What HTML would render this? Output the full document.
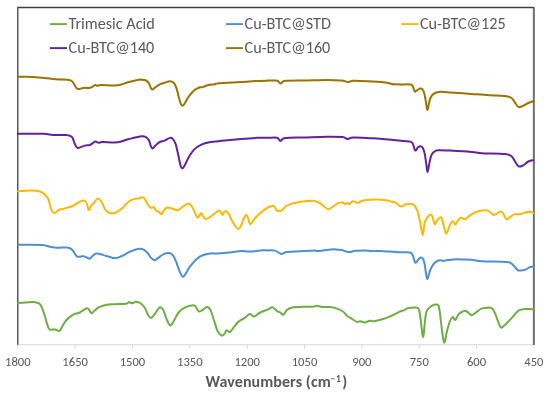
<!DOCTYPE html>
<html><head><meta charset="utf-8"><style>
html,body{margin:0;padding:0;background:#fff;}
body{width:550px;height:397px;overflow:hidden;}
svg{display:block;}
.ax text{font-family:Carlito,"Liberation Sans",sans-serif;font-size:12.6px;fill:#595959;text-anchor:middle;}
.lg text{font-family:Carlito,"Liberation Sans",sans-serif;font-size:16.2px;fill:#595959;}
.tt{font-family:Carlito,"Liberation Sans",sans-serif;font-size:16px;letter-spacing:0.08px;font-weight:bold;fill:#595959;}
.cv path{fill:none;stroke-width:2;stroke-linejoin:round;stroke-linecap:round;}
</style></head><body>
<svg width="550" height="397" viewBox="0 0 550 397">
<rect width="550" height="397" fill="#fff"/>
<g stroke="#d9d9d9" stroke-width="1"><line x1="17.8" y1="344.7" x2="533.9" y2="344.7"/><line x1="17.80" y1="344.7" x2="17.80" y2="348.7"/><line x1="75.14" y1="344.7" x2="75.14" y2="348.7"/><line x1="132.49" y1="344.7" x2="132.49" y2="348.7"/><line x1="189.83" y1="344.7" x2="189.83" y2="348.7"/><line x1="247.18" y1="344.7" x2="247.18" y2="348.7"/><line x1="304.52" y1="344.7" x2="304.52" y2="348.7"/><line x1="361.87" y1="344.7" x2="361.87" y2="348.7"/><line x1="419.21" y1="344.7" x2="419.21" y2="348.7"/><line x1="476.56" y1="344.7" x2="476.56" y2="348.7"/><line x1="533.90" y1="344.7" x2="533.90" y2="348.7"/></g>
<line x1="533.85" y1="7" x2="533.85" y2="345" stroke="#707070" stroke-width="2"/>
<path d="M17.8,344.7 V7.5 H533.4" fill="none" stroke="#404040" stroke-width="1.3"/>
<g class="cv">
<path d="M17.9,303.0 C19.2,302.9 23.1,302.6 25.5,302.5 C27.9,302.4 30.3,302.0 32.5,302.1 C34.7,302.2 37.2,302.8 38.5,303.2 C39.8,303.6 39.7,303.8 40.3,304.6 C40.9,305.4 41.4,306.4 42.1,308.1 C42.8,309.9 43.9,312.8 44.6,315.1 C45.4,317.5 45.9,320.0 46.6,322.2 C47.3,324.4 48.0,326.9 48.6,328.2 C49.2,329.4 49.2,329.5 50.3,329.7 C51.4,329.9 54.1,329.4 55.2,329.5 C56.4,329.6 56.6,330.1 57.2,330.4 C57.8,330.6 58.2,331.0 58.7,331.0 C59.2,331.0 59.5,331.2 60.2,330.2 C61.0,329.1 62.2,326.4 63.2,324.7 C64.2,323.0 65.1,321.5 66.3,320.2 C67.5,318.9 69.0,317.6 70.3,316.6 C71.6,315.6 72.7,314.8 74.3,314.1 C75.9,313.4 77.7,313.5 79.8,312.5 C81.9,311.5 85.3,308.6 86.9,308.2 C88.5,307.8 88.5,309.3 89.3,310.1 C90.1,310.9 90.7,313.2 91.7,313.2 C92.7,313.2 94.0,311.1 95.2,310.1 C96.4,309.1 96.9,308.2 98.7,307.3 C100.5,306.4 103.0,305.4 105.8,304.9 C108.6,304.4 111.9,304.4 115.3,304.2 C118.7,304.0 123.6,304.0 125.9,303.7 C128.2,303.4 128.1,302.2 129.0,302.1 C129.9,302.0 130.5,303.1 131.4,303.2 C132.3,303.3 133.5,302.7 134.2,302.5 C134.9,302.3 134.4,301.7 135.4,301.8 C136.4,301.9 138.5,302.0 140.1,303.0 C141.7,304.0 143.5,305.7 144.8,307.7 C146.1,309.7 146.9,313.1 147.9,314.8 C148.9,316.5 149.8,318.1 151.0,317.9 C152.2,317.7 153.6,315.4 155.0,313.6 C156.4,311.8 158.3,307.9 159.7,307.3 C161.1,306.7 162.1,308.1 163.3,310.1 C164.5,312.2 165.6,317.0 166.8,319.6 C168.0,322.2 169.2,325.3 170.4,325.5 C171.6,325.7 172.5,322.9 173.9,320.7 C175.3,318.5 176.8,314.7 178.6,312.5 C180.4,310.3 182.4,308.9 184.6,307.7 C186.8,306.5 189.8,305.7 191.6,305.4 C193.4,305.1 194.0,305.1 195.2,306.1 C196.4,307.1 197.5,310.6 198.7,311.3 C199.9,312.0 200.9,310.8 202.3,310.1 C203.7,309.4 205.6,307.0 207.0,307.0 C208.4,307.0 209.4,307.8 210.6,310.1 C211.8,312.4 212.9,317.1 214.1,320.7 C215.3,324.2 216.4,328.9 217.7,331.4 C219.0,333.9 220.7,335.2 221.9,335.6 C223.1,336.0 223.9,334.6 224.7,333.7 C225.5,332.8 225.7,330.5 226.6,330.2 C227.5,329.9 228.6,332.7 229.9,332.1 C231.2,331.5 232.7,328.4 234.2,326.6 C235.7,324.8 237.1,322.8 238.9,321.4 C240.7,319.9 243.0,319.1 244.8,317.9 C246.6,316.7 248.0,314.3 249.6,314.1 C251.2,313.9 252.5,316.8 254.3,316.5 C256.1,316.2 258.0,313.6 260.2,312.5 C262.4,311.4 265.3,310.5 267.3,309.6 C269.3,308.7 271.0,307.3 272.3,307.3 C273.6,307.3 274.2,308.7 275.1,309.4 C276.0,310.1 277.0,311.2 277.9,311.7 C278.8,312.2 279.4,312.0 280.3,312.5 C281.2,313.0 282.3,315.2 283.4,314.8 C284.5,314.4 285.5,311.3 286.9,310.1 C288.3,308.9 288.8,308.2 291.6,307.7 C294.4,307.1 299.9,306.9 303.5,306.8 C307.1,306.7 310.7,307.0 312.9,306.8 C315.1,306.6 314.9,305.8 316.5,305.8 C318.1,305.8 320.0,306.8 322.4,307.0 C324.8,307.2 328.1,306.7 330.6,307.0 C333.2,307.3 335.5,308.1 337.7,308.9 C339.9,309.7 342.0,310.8 343.6,312.0 C345.2,313.2 345.8,314.9 347.2,316.0 C348.6,317.1 350.3,317.8 351.9,318.8 C353.5,319.8 355.3,321.5 356.7,321.9 C358.1,322.3 358.8,321.1 360.2,321.2 C361.6,321.3 363.3,322.5 364.9,322.4 C366.5,322.3 368.1,320.9 369.7,320.7 C371.3,320.5 372.0,321.5 374.4,321.2 C376.8,320.9 381.1,319.7 383.8,318.8 C386.6,317.9 388.3,317.1 390.9,316.0 C393.5,314.9 397.0,312.9 399.2,311.9 C401.4,310.9 402.8,310.7 404.3,310.1 C405.8,309.5 406.2,308.5 408.2,308.1 C410.2,307.7 414.7,307.3 416.5,307.5 C418.3,307.7 418.3,308.1 418.9,309.5 C419.5,310.9 419.8,313.4 420.2,316.0 C420.6,318.6 420.9,322.1 421.3,325.0 C421.7,327.9 422.0,331.5 422.3,333.5 C422.6,335.5 422.8,337.2 423.0,337.2 C423.2,337.2 423.5,335.9 423.8,333.5 C424.1,331.1 424.4,326.3 424.8,323.0 C425.2,319.7 425.5,315.8 426.0,313.5 C426.5,311.2 427.0,310.6 427.7,309.5 C428.4,308.4 429.1,307.8 430.2,307.0 C431.2,306.2 432.8,305.2 434.0,304.8 C435.2,304.4 436.7,304.3 437.5,304.6 C438.3,304.9 438.4,305.3 438.8,306.5 C439.2,307.7 439.4,309.4 439.8,312.0 C440.2,314.6 440.6,318.3 441.0,322.0 C441.4,325.7 442.0,330.6 442.5,334.0 C443.0,337.4 443.6,341.5 444.1,342.3 C444.6,343.1 445.1,340.6 445.5,339.0 C445.9,337.4 445.9,335.7 446.6,332.8 C447.3,329.9 448.9,324.1 449.8,321.5 C450.8,318.9 451.7,318.0 452.3,317.4 C452.9,316.8 453.0,317.2 453.5,317.6 C454.0,318.0 454.6,320.4 455.4,320.0 C456.1,319.6 457.2,316.3 458.0,315.2 C458.8,314.1 459.2,313.8 460.0,313.1 C460.8,312.5 462.1,311.7 463.0,311.3 C463.9,310.9 464.6,310.6 465.5,310.8 C466.4,311.1 467.5,312.1 468.5,312.8 C469.5,313.5 470.6,315.1 471.7,315.2 C472.8,315.2 473.7,314.1 475.2,313.1 C476.7,312.1 479.1,309.9 480.7,309.0 C482.3,308.1 483.6,308.1 485.0,307.9 C486.4,307.7 487.9,307.6 489.0,307.6 C490.1,307.7 490.8,307.9 491.5,308.2 C492.2,308.5 492.5,308.6 493.1,309.6 C493.7,310.6 494.6,312.4 495.3,314.0 C496.0,315.6 496.4,317.1 497.3,319.3 C498.2,321.5 499.6,326.2 500.7,327.3 C501.8,328.4 502.5,327.1 504.2,325.6 C505.9,324.2 508.8,321.0 511.1,318.6 C513.4,316.2 516.3,312.5 518.0,311.0 C519.7,309.5 520.4,309.9 521.5,309.6 C522.6,309.3 523.6,309.1 524.9,309.0 C526.2,308.9 527.6,308.9 529.1,309.0 C530.6,309.1 533.1,309.3 533.9,309.4" stroke="#6cae42"/>
<path d="M17.9,244.8 C19.9,244.8 25.9,244.7 30.0,244.7 C34.1,244.7 39.7,244.7 42.5,244.9 C45.3,245.1 45.5,245.6 47.0,246.0 C48.5,246.4 49.8,246.8 51.5,247.1 C53.2,247.4 55.2,247.7 57.0,247.8 C58.8,247.9 60.3,247.6 62.0,247.6 C63.7,247.6 65.8,247.5 67.0,247.6 C68.2,247.7 68.5,247.5 69.5,248.0 C70.5,248.5 71.6,249.1 72.7,250.4 C73.8,251.7 75.3,254.8 76.3,255.8 C77.3,256.9 77.4,256.6 78.6,256.7 C79.8,256.8 82.0,256.2 83.4,256.3 C84.8,256.4 85.8,257.1 86.9,257.5 C88.0,257.9 88.8,258.9 89.8,258.6 C90.8,258.3 91.7,256.7 92.8,255.8 C93.9,254.9 94.6,253.5 96.4,253.4 C98.2,253.3 100.8,254.3 103.5,255.1 C106.2,255.8 110.5,257.5 112.9,257.9 C115.3,258.3 115.7,258.2 117.7,257.7 C119.7,257.1 122.3,255.8 124.7,254.6 C127.1,253.4 129.4,251.8 131.8,250.8 C134.2,249.8 136.9,248.9 138.9,248.7 C140.9,248.5 142.6,249.0 144.1,249.8 C145.6,250.6 147.1,252.3 148.2,253.6 C149.3,254.9 149.9,256.6 150.9,257.7 C151.9,258.8 153.2,260.1 154.3,260.2 C155.4,260.3 156.2,259.4 157.7,258.4 C159.2,257.4 161.3,255.2 163.2,254.3 C165.1,253.4 167.7,252.9 169.3,253.0 C170.9,253.1 171.5,253.5 172.7,255.0 C173.8,256.5 175.0,259.1 176.2,261.8 C177.3,264.5 178.5,268.9 179.6,271.4 C180.7,273.9 181.7,276.0 182.6,276.6 C183.5,277.2 183.7,276.6 185.0,274.8 C186.3,273.0 188.4,268.6 190.5,265.9 C192.6,263.2 195.0,260.3 197.3,258.4 C199.6,256.5 201.8,255.5 204.1,254.7 C206.4,253.9 208.6,253.6 210.9,253.4 C213.2,253.2 214.6,253.7 217.7,253.5 C220.8,253.3 225.6,252.9 229.5,252.5 C233.4,252.1 238.4,251.3 241.3,251.1 C244.2,250.9 245.2,251.4 247.2,251.5 C249.2,251.6 250.9,251.7 253.1,251.5 C255.3,251.3 257.7,250.6 260.2,250.4 C262.7,250.2 265.5,250.4 268.0,250.4 C270.5,250.4 272.9,250.0 275.1,250.6 C277.3,251.2 279.0,253.7 281.0,253.9 C283.0,254.1 283.1,252.5 286.9,252.0 C290.6,251.5 298.8,251.3 303.5,251.1 C308.2,250.9 312.9,250.6 315.3,250.6 C317.7,250.6 314.9,251.3 317.6,251.1 C320.4,250.9 327.9,249.6 331.8,249.4 C335.8,249.2 338.5,249.7 341.3,250.1 C344.1,250.5 346.0,251.9 348.4,252.0 C350.8,252.1 352.8,251.1 355.5,250.8 C358.2,250.5 362.1,250.4 364.9,250.4 C367.6,250.4 369.2,251.0 372.0,251.1 C374.8,251.2 378.4,251.0 381.5,251.1 C384.6,251.2 388.1,251.3 390.9,251.5 C393.6,251.7 394.8,252.1 398.0,252.3 C401.2,252.5 407.6,252.0 410.0,252.5 C412.4,253.0 411.9,254.0 412.6,255.1 C413.3,256.2 413.6,257.8 414.0,259.0 C414.4,260.2 414.7,261.8 415.1,262.4 C415.5,262.9 415.9,262.6 416.3,262.3 C416.7,262.0 416.8,261.5 417.4,260.8 C418.0,260.1 419.0,258.6 419.7,258.1 C420.4,257.6 421.1,257.3 421.7,257.6 C422.3,257.9 423.0,258.6 423.5,259.8 C424.0,261.0 424.4,263.0 424.8,265.0 C425.2,267.0 425.4,269.7 425.8,272.0 C426.2,274.3 426.7,278.3 427.2,278.8 C427.7,279.3 428.2,276.6 428.7,275.2 C429.2,273.8 429.5,271.9 430.2,270.2 C430.9,268.5 431.9,266.6 432.8,265.2 C433.7,263.8 434.7,262.7 435.8,261.9 C436.9,261.1 438.4,260.6 439.3,260.3 C440.2,260.0 440.6,260.2 441.3,260.3 C442.0,260.4 442.5,261.0 443.3,261.0 C444.1,261.0 445.3,260.5 446.4,260.3 C447.5,260.1 448.4,260.1 450.0,259.9 C451.6,259.7 452.4,259.3 456.0,259.3 C459.6,259.3 467.2,259.5 471.5,259.8 C475.8,260.1 476.0,261.0 481.8,261.3 C487.6,261.6 501.4,261.5 506.3,261.9 C511.2,262.2 509.8,262.6 511.2,263.4 C512.6,264.2 513.5,265.5 514.5,266.6 C515.5,267.7 516.7,269.3 517.5,270.0 C518.3,270.7 518.6,270.6 519.5,270.6 C520.4,270.7 521.7,270.5 522.8,270.3 C523.9,270.1 525.0,269.9 526.1,269.4 C527.2,268.9 528.1,267.9 529.4,267.4 C530.6,266.9 532.9,266.4 533.6,266.2" stroke="#4b8fd4"/>
<path d="M17.9,191.2 C19.3,191.1 23.7,190.8 26.1,190.7 C28.5,190.6 30.4,190.4 32.5,190.5 C34.6,190.6 37.1,190.8 38.8,191.2 C40.5,191.6 41.3,191.9 42.5,192.7 C43.7,193.5 45.1,194.8 46.1,195.9 C47.1,197.0 47.7,197.8 48.4,199.5 C49.1,201.2 49.6,204.0 50.2,205.9 C50.8,207.8 51.3,209.7 52.0,210.9 C52.7,212.1 53.5,212.9 54.3,213.0 C55.1,213.1 56.2,212.0 57.0,211.4 C57.8,210.8 58.4,209.9 59.3,209.5 C60.2,209.1 61.2,209.4 62.5,209.1 C63.8,208.8 65.3,208.2 67.0,207.7 C68.7,207.2 70.6,207.0 72.7,206.0 C74.8,205.0 77.8,202.6 79.8,201.7 C81.8,200.8 83.4,200.3 84.6,200.6 C85.8,200.9 86.2,202.0 86.9,203.6 C87.6,205.2 88.1,209.7 88.8,210.0 C89.5,210.3 90.3,206.7 91.2,205.5 C92.1,204.3 92.9,204.1 94.0,202.9 C95.1,201.7 96.4,198.7 97.6,198.4 C98.8,198.1 99.7,199.3 101.1,201.3 C102.5,203.3 104.2,208.3 105.8,210.3 C107.4,212.3 108.8,212.8 110.6,213.1 C112.4,213.4 114.5,213.3 116.5,212.4 C118.5,211.5 120.4,209.6 122.4,207.9 C124.4,206.2 126.3,203.5 128.3,202.0 C130.3,200.5 132.4,199.5 134.2,198.9 C136.0,198.3 137.5,198.7 138.9,198.4 C140.3,198.1 141.6,197.3 142.5,197.3 C143.4,197.3 143.5,197.2 144.4,198.4 C145.3,199.7 146.8,203.2 147.9,204.8 C149.0,206.4 150.0,207.5 151.0,207.9 C152.0,208.3 152.9,206.7 153.8,207.2 C154.7,207.7 155.3,209.9 156.2,210.7 C157.1,211.5 158.1,211.3 159.0,211.9 C159.9,212.5 160.6,214.5 161.4,214.3 C162.2,214.1 162.8,211.8 163.7,210.7 C164.6,209.6 165.5,208.1 166.8,207.7 C168.1,207.3 169.8,208.0 171.6,208.4 C173.4,208.8 175.7,210.5 177.5,210.3 C179.3,210.1 180.4,208.3 182.2,207.2 C184.0,206.1 186.5,203.8 188.1,203.6 C189.7,203.4 190.4,204.4 191.6,206.0 C192.8,207.6 194.2,211.1 195.2,213.1 C196.2,215.1 196.6,217.8 197.6,217.8 C198.6,217.8 200.2,213.4 201.1,213.1 C202.0,212.8 202.2,215.2 203.0,216.2 C203.8,217.2 204.5,218.9 205.8,219.0 C207.1,219.1 208.6,217.9 210.6,216.6 C212.6,215.3 216.1,212.2 217.7,211.2 C219.3,210.2 219.2,210.1 220.0,210.7 C220.8,211.3 221.6,214.9 222.4,215.0 C223.2,215.1 223.7,211.7 224.7,211.4 C225.7,211.1 226.9,211.2 228.3,213.1 C229.7,215.0 231.4,220.0 233.0,222.6 C234.6,225.2 236.4,228.3 237.7,228.9 C239.0,229.5 239.7,227.9 240.8,226.1 C241.9,224.2 243.2,219.7 244.1,217.8 C245.0,216.0 245.8,214.8 246.5,215.0 C247.2,215.2 247.8,217.5 248.4,219.0 C249.0,220.5 249.3,224.2 250.3,224.2 C251.3,224.2 252.7,220.8 254.3,219.0 C256.0,217.2 258.0,215.0 260.2,213.1 C262.4,211.2 265.5,208.9 267.3,207.8 C269.1,206.7 269.9,206.6 271.0,206.3 C272.1,206.0 272.9,205.6 273.6,205.9 C274.3,206.2 274.7,207.3 275.2,208.0 C275.7,208.7 276.0,209.7 276.5,210.2 C277.0,210.7 277.2,210.9 278.0,211.0 C278.8,211.1 280.2,211.1 281.0,210.8 C281.8,210.6 282.2,210.3 283.0,209.5 C283.8,208.7 284.6,207.2 286.0,206.2 C287.4,205.2 289.1,204.3 291.6,203.6 C294.1,202.8 297.6,202.2 301.1,201.7 C304.7,201.2 309.9,200.7 312.9,200.8 C315.8,200.9 317.0,201.6 318.8,202.5 C320.6,203.4 322.0,204.9 323.6,206.0 C325.2,207.1 326.7,209.2 328.3,209.3 C329.9,209.4 331.2,207.6 333.0,206.5 C334.8,205.4 337.3,203.6 338.9,202.9 C340.5,202.2 341.4,202.3 342.5,202.5 C343.6,202.7 344.7,204.1 345.5,204.1 C346.3,204.1 346.7,202.7 347.4,202.7 C348.1,202.7 348.7,204.3 349.6,204.1 C350.5,203.9 351.6,201.7 352.6,201.3 C353.6,201.0 354.6,201.7 355.5,202.0 C356.4,202.3 356.6,203.1 357.8,202.9 C359.0,202.7 359.8,201.4 362.6,200.8 C365.4,200.2 370.9,199.8 374.4,199.6 C377.9,199.4 380.6,199.5 383.8,199.9 C387.0,200.3 391.5,201.5 393.6,202.0 C395.7,202.5 395.5,202.4 396.4,203.0 C397.3,203.6 398.3,204.9 399.0,205.5 C399.7,206.1 399.8,206.3 400.5,206.4 C401.2,206.5 402.4,206.2 403.2,205.9 C403.9,205.6 404.4,204.7 405.0,204.4 C405.6,204.1 405.9,204.4 407.0,204.3 C408.1,204.2 410.6,203.8 411.8,204.0 C413.0,204.2 413.5,204.8 414.2,205.5 C414.9,206.2 415.4,206.8 416.0,208.0 C416.6,209.2 417.3,210.1 418.0,212.7 C418.7,215.3 419.6,219.7 420.4,223.4 C421.2,227.2 422.0,235.2 422.7,235.2 C423.4,235.2 423.9,226.1 424.5,223.4 C425.1,220.7 425.6,220.4 426.3,219.2 C427.0,218.0 427.9,216.8 428.6,216.0 C429.3,215.2 429.8,214.4 430.4,214.5 C431.0,214.6 431.7,214.7 432.4,216.3 C433.1,217.9 434.0,223.1 434.6,224.0 C435.2,224.9 435.5,222.6 436.3,221.6 C437.1,220.6 438.4,218.6 439.3,218.0 C440.2,217.4 440.9,216.9 441.6,218.0 C442.3,219.1 442.7,222.1 443.4,224.6 C444.1,227.1 445.1,232.0 445.8,233.1 C446.5,234.2 446.8,232.5 447.6,231.0 C448.4,229.5 449.6,225.6 450.5,224.0 C451.4,222.4 452.1,221.1 452.9,221.2 C453.7,221.3 454.4,224.7 455.2,224.6 C456.0,224.5 456.6,222.0 457.6,220.8 C458.6,219.7 459.8,218.0 461.1,217.7 C462.4,217.4 463.6,219.8 465.3,219.2 C467.0,218.6 469.2,215.7 471.5,214.3 C473.8,212.9 476.8,211.7 479.2,211.0 C481.6,210.3 484.0,210.1 485.7,210.2 C487.4,210.3 488.2,210.7 489.5,211.5 C490.8,212.3 492.2,214.6 493.4,214.9 C494.6,215.2 495.6,214.2 496.8,213.6 C498.0,213.0 499.4,211.6 500.4,211.5 C501.4,211.4 502.0,211.7 503.0,213.0 C504.0,214.3 505.1,218.5 506.3,219.2 C507.5,219.8 508.8,217.8 510.2,216.9 C511.6,216.1 513.1,214.5 514.8,214.1 C516.5,213.7 518.7,214.6 520.5,214.3 C522.3,214.0 524.1,212.7 525.7,212.3 C527.3,211.9 529.0,211.7 530.3,211.8 C531.6,211.9 532.9,212.8 533.4,213.0" stroke="#ffb800"/>
<path d="M17.9,133.8 C22.1,133.8 37.4,133.6 43.2,133.8 C49.1,134.0 49.2,134.7 53.0,134.9 C56.8,135.1 63.1,134.8 66.1,135.1 C69.1,135.3 69.9,135.9 71.0,136.4 C72.1,136.9 72.1,137.0 72.8,138.3 C73.5,139.7 74.2,142.9 75.1,144.5 C75.9,146.1 76.3,147.8 77.9,148.0 C79.5,148.2 82.7,146.1 84.6,145.6 C86.5,145.1 88.0,145.5 89.3,145.2 C90.5,144.9 91.1,144.3 92.1,143.7 C93.1,143.1 94.1,141.6 95.2,141.4 C96.3,141.2 97.5,142.7 98.7,142.8 C99.9,142.9 99.1,142.2 102.3,142.1 C105.5,142.0 113.6,142.7 117.7,142.3 C121.8,141.9 123.6,140.4 127.1,139.5 C130.6,138.6 136.4,137.2 138.9,136.7 C141.4,136.2 140.9,136.3 142.0,136.3 C143.1,136.3 144.3,136.2 145.5,136.8 C146.7,137.5 148.0,138.6 148.9,140.2 C149.8,141.8 150.3,145.0 150.9,146.4 C151.5,147.8 151.9,148.5 152.6,148.4 C153.3,148.3 153.9,147.1 155.0,146.1 C156.1,145.1 157.5,143.2 159.1,142.3 C160.7,141.4 162.8,141.3 164.6,140.6 C166.4,139.9 168.7,138.2 170.0,137.9 C171.3,137.6 171.8,138.0 172.7,138.9 C173.6,139.8 174.6,141.0 175.5,143.6 C176.4,146.2 177.4,150.9 178.2,154.6 C179.0,158.2 179.8,163.2 180.5,165.5 C181.2,167.8 181.8,168.3 182.6,168.2 C183.3,168.1 183.9,166.7 185.0,164.8 C186.1,162.9 187.5,159.2 189.1,156.6 C190.7,154.0 192.5,151.1 194.6,149.1 C196.7,147.1 199.1,145.8 201.4,144.7 C203.7,143.6 205.9,143.1 208.2,142.6 C210.5,142.1 212.2,141.9 215.0,141.6 C217.8,141.3 220.3,141.0 224.7,140.6 C229.1,140.2 235.8,139.5 241.3,139.0 C246.8,138.5 253.4,138.0 257.8,137.8 C262.2,137.6 264.8,137.8 268.0,137.8 C271.2,137.8 274.9,137.3 277.0,137.8 C279.1,138.3 279.2,140.9 280.5,140.9 C281.8,140.9 281.2,138.7 285.0,138.1 C288.8,137.5 296.5,137.6 303.5,137.4 C310.5,137.2 320.6,136.8 327.1,136.7 C333.6,136.6 339.1,136.7 342.5,137.1 C345.9,137.5 345.4,138.9 347.2,139.0 C349.0,139.1 349.4,137.7 353.1,137.6 C356.9,137.5 365.2,138.0 369.7,138.2 C374.2,138.4 376.4,138.4 380.0,138.7 C383.6,139.0 387.7,139.4 391.6,139.8 C395.5,140.2 400.2,140.7 403.3,141.0 C406.4,141.3 408.6,141.2 410.2,141.6 C411.8,142.0 412.0,142.1 412.7,143.4 C413.4,144.7 414.1,148.2 414.6,149.4 C415.1,150.6 415.3,150.8 415.9,150.4 C416.5,150.1 417.2,148.0 418.0,147.3 C418.8,146.6 419.8,146.1 420.6,146.2 C421.4,146.3 422.0,146.5 422.7,147.8 C423.4,149.1 424.2,151.3 424.8,154.1 C425.4,156.9 425.9,161.7 426.4,164.7 C426.8,167.7 427.1,172.1 427.5,172.1 C427.9,172.1 428.5,167.4 429.1,164.7 C429.7,162.0 430.4,157.8 431.2,155.7 C432.0,153.6 432.7,152.9 433.8,152.0 C434.9,151.1 435.3,150.4 438.0,150.2 C440.7,150.0 444.4,150.3 450.0,150.6 C455.6,150.9 466.2,151.5 471.5,151.9 C476.8,152.3 476.2,152.8 481.8,153.2 C487.4,153.5 500.1,153.5 505.0,154.0 C509.9,154.5 509.8,155.0 511.5,156.3 C513.2,157.6 514.2,160.3 515.4,162.0 C516.6,163.7 517.4,165.8 518.7,166.4 C520.0,167.0 521.5,166.2 523.1,165.4 C524.7,164.6 526.6,162.4 528.3,161.5 C530.0,160.6 532.5,160.4 533.4,160.2" stroke="#6320a0"/>
<path d="M17.9,76.8 C20.5,76.8 27.0,76.5 33.4,76.9 C39.8,77.3 50.2,78.7 56.2,79.2 C62.2,79.7 66.5,79.4 69.2,79.9 C72.0,80.4 71.5,80.7 72.7,82.0 C73.9,83.3 75.3,86.7 76.3,87.9 C77.3,89.1 77.4,89.1 78.6,89.1 C79.8,89.1 81.6,88.1 83.4,87.9 C85.2,87.7 87.9,88.0 89.3,87.9 C90.7,87.8 90.7,87.7 91.7,87.2 C92.7,86.7 94.2,85.1 95.2,84.9 C96.2,84.7 96.6,85.8 97.6,85.8 C98.6,85.8 97.8,85.2 101.1,85.1 C104.4,85.0 113.4,85.7 117.7,85.3 C122.0,84.9 123.8,83.4 127.1,82.5 C130.4,81.6 135.2,80.4 137.7,79.9 C140.2,79.4 140.6,79.6 142.0,79.7 C143.4,79.8 144.9,79.9 146.1,80.5 C147.2,81.1 148.1,82.0 148.9,83.2 C149.7,84.5 150.3,86.9 150.9,88.0 C151.5,89.1 151.8,89.8 152.6,89.6 C153.4,89.4 154.5,87.9 155.7,87.0 C156.9,86.1 158.3,85.0 159.8,84.3 C161.3,83.6 162.9,83.3 164.6,82.8 C166.3,82.3 168.5,81.2 170.0,81.2 C171.5,81.2 172.4,81.5 173.4,82.5 C174.4,83.5 175.3,85.0 176.2,87.3 C177.1,89.6 177.8,93.5 178.6,96.2 C179.3,98.9 180.0,102.1 180.7,103.7 C181.4,105.3 181.9,105.8 182.6,105.7 C183.3,105.6 183.9,104.6 185.0,103.0 C186.1,101.4 187.5,98.4 189.1,96.2 C190.7,94.0 192.8,91.6 194.6,90.1 C196.4,88.6 198.6,87.8 200.0,87.3 C201.4,86.8 201.4,87.5 202.8,87.1 C204.2,86.7 206.2,85.5 208.2,85.0 C210.2,84.5 213.4,84.5 215.0,84.2 C216.6,83.9 214.1,83.7 217.7,83.4 C221.3,83.1 230.3,82.7 236.6,82.3 C242.9,81.9 250.3,81.4 255.5,81.1 C260.7,80.8 264.8,80.7 268.0,80.6 C271.2,80.5 273.4,80.4 275.0,80.4 C276.6,80.5 276.9,80.4 277.8,80.9 C278.7,81.4 279.5,83.4 280.4,83.5 C281.3,83.6 282.1,82.1 283.0,81.6 C283.9,81.1 282.6,80.9 286.0,80.7 C289.4,80.5 296.6,80.5 303.5,80.4 C310.4,80.3 320.8,79.9 327.1,79.9 C333.4,79.9 337.8,80.1 341.3,80.4 C344.8,80.8 345.9,81.9 347.9,82.0 C349.9,82.1 349.9,80.9 353.1,80.8 C356.3,80.7 362.2,81.0 367.3,81.3 C372.4,81.5 379.5,81.8 383.8,82.3 C388.1,82.8 391.6,84.1 393.3,84.4 C395.0,84.7 392.9,84.2 394.0,84.2 C395.1,84.2 397.2,84.4 400.0,84.4 C402.8,84.5 408.4,84.2 410.5,84.5 C412.6,84.8 412.2,85.3 412.9,86.5 C413.6,87.7 414.1,90.9 414.8,91.6 C415.5,92.2 415.9,90.9 416.8,90.4 C417.7,89.9 419.2,88.7 420.1,88.5 C421.1,88.3 421.8,88.5 422.5,89.4 C423.2,90.3 423.8,91.6 424.4,93.7 C425.0,95.8 425.4,99.2 425.9,101.9 C426.4,104.6 426.8,109.3 427.3,109.8 C427.8,110.3 428.2,106.6 428.7,104.7 C429.2,102.8 429.5,100.2 430.2,98.5 C430.9,96.8 431.6,95.7 432.6,94.7 C433.6,93.7 435.0,93.0 436.4,92.5 C437.8,92.0 438.9,91.8 441.2,91.8 C443.5,91.8 444.9,92.1 450.0,92.4 C455.1,92.8 464.9,93.4 471.5,93.9 C478.1,94.4 483.9,94.9 489.5,95.2 C495.1,95.5 501.3,95.5 505.0,96.0 C508.7,96.5 509.8,96.8 511.5,98.0 C513.2,99.2 514.2,101.7 515.4,103.2 C516.6,104.7 517.4,106.7 518.7,107.1 C520.0,107.5 521.5,106.5 523.1,105.8 C524.7,105.1 526.6,103.8 528.3,103.0 C530.0,102.2 532.5,101.4 533.4,101.1" stroke="#9e7100"/>
</g>
<g class="lg"><line x1="50.0" y1="24.1" x2="67.0" y2="24.1" stroke="#6cae42" stroke-width="1.9"/><text x="68.5" y="28.6" textLength="86.22" lengthAdjust="spacingAndGlyphs">Trimesic Acid</text><line x1="226.0" y1="24.1" x2="243.0" y2="24.1" stroke="#4b8fd4" stroke-width="1.9"/><text x="244.5" y="28.6" textLength="86.36" lengthAdjust="spacingAndGlyphs">Cu-BTC@STD</text><line x1="401.4" y1="24.1" x2="418.4" y2="24.1" stroke="#ffb800" stroke-width="1.9"/><text x="419.9" y="28.6" textLength="85.80" lengthAdjust="spacingAndGlyphs">Cu-BTC@125</text><line x1="50.0" y1="48.1" x2="67.0" y2="48.1" stroke="#6320a0" stroke-width="1.9"/><text x="68.5" y="52.6" textLength="85.80" lengthAdjust="spacingAndGlyphs">Cu-BTC@140</text><line x1="226.0" y1="48.1" x2="243.0" y2="48.1" stroke="#9e7100" stroke-width="1.9"/><text x="244.5" y="52.6" textLength="85.80" lengthAdjust="spacingAndGlyphs">Cu-BTC@160</text></g>
<g class="ax"><text x="17.80" y="365.6" textLength="25.55" lengthAdjust="spacingAndGlyphs">1800</text><text x="75.14" y="365.6" textLength="25.55" lengthAdjust="spacingAndGlyphs">1650</text><text x="132.49" y="365.6" textLength="25.55" lengthAdjust="spacingAndGlyphs">1500</text><text x="189.83" y="365.6" textLength="25.55" lengthAdjust="spacingAndGlyphs">1350</text><text x="247.18" y="365.6" textLength="25.55" lengthAdjust="spacingAndGlyphs">1200</text><text x="304.52" y="365.6" textLength="25.55" lengthAdjust="spacingAndGlyphs">1050</text><text x="361.87" y="365.6" textLength="19.16" lengthAdjust="spacingAndGlyphs">900</text><text x="419.21" y="365.6" textLength="19.16" lengthAdjust="spacingAndGlyphs">750</text><text x="476.56" y="365.6" textLength="19.16" lengthAdjust="spacingAndGlyphs">600</text><text x="533.90" y="365.6" textLength="19.16" lengthAdjust="spacingAndGlyphs">450</text></g>
<text class="tt" x="205.5" y="386.8"><tspan textLength="125.3" lengthAdjust="spacingAndGlyphs">Wavenumbers (cm</tspan><tspan font-size="9.5" dy="-4.6" dx="-0.4">&#8722;</tspan><tspan font-size="9.5" dx="0.8">1</tspan><tspan dy="4.6" dx="1.3">)</tspan></text>
</svg>
</body></html>
